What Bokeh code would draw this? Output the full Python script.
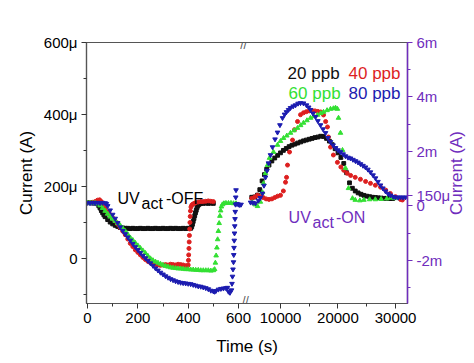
from bokeh.plotting import figure
from bokeh.models import Range1d, LinearAxis, FixedTicker, Label
from bokeh.embed import file_html
from bokeh.resources import INLINE

# ---------------- data ----------------
# left segment: time (s), current (µA) on left axis
black_left = [(0,155),(10,155),(20,154),(30,154),(40,152),(45,146),(50,140),(55,133),(60,127),(65,121),(70,116),(80,108),(90,101),(100,96),(110,92),(120,89),(130,86),(140,85),(150,84),(160,84),(170,83),(180,84),(190,83),(200,83),(210,84),(220,83),(230,83),(240,84),(250,83),(260,83),(270,84),(280,83),(290,83),(300,84),(310,83),(320,83),(330,84),(340,83),(350,84),(360,83),(370,83),(380,84),(390,83),(400,84),(410,84),(414,88),(417,95),(420,103),(423,111),(426,119),(429,127),(432,134),(435,141),(438,146),(442,150),(446,152),(450,153),(460,153),(470,154),(480,153),(490,154),(500,153)]
red_left = [(0,155),(10,155),(20,156),(30,158),(40,162),(48,163),(55,158),(60,150),(70,140),(80,130),(90,122),(100,113),(110,104),(120,95),(130,86),(140,76),(150,66),(160,54),(170,42),(180,33),(190,24),(200,17),(210,10),(220,3),(230,-3),(240,-8),(250,-12),(260,-15),(270,-17),(280,-18),(290,-19),(300,-18),(310,-17),(320,-18),(330,-16),(340,-17),(350,-18),(360,-16),(370,-17),(380,-18),(390,-20),(396,-22),(400,-18),(401,-5),(402,10),(403,28),(404,46),(405,64),(406,82),(407,100),(408,117),(409,132),(411,143),(414,148),(418,151),(424,153),(430,155),(440,157),(450,158),(460,158),(470,159),(480,160),(490,159),(500,158)]
green_left = [(0,155),(10,155),(20,154),(30,154),(40,152),(50,147),(60,140),(70,132),(80,124),(90,116),(100,110),(110,104),(120,98),(130,92),(140,84),(150,76),(160,67),(170,58),(180,51),(190,43),(200,36),(210,29),(220,22),(230,15),(240,7),(250,0),(260,-5),(270,-9),(280,-12),(290,-15),(300,-18),(310,-21),(320,-23),(330,-25),(340,-26),(350,-27),(360,-28),(370,-28),(380,-29),(390,-30),(400,-30),(410,-31),(420,-31),(430,-32),(440,-32),(450,-33),(460,-33),(470,-33),(480,-33),(490,-34),(500,-33),(505,-30),(508,-12),(511,8),(514,30),(517,53),(520,76),(523,98),(526,118),(529,133),(532,144),(536,150),(542,153),(550,154),(560,154),(570,154),(580,153),(590,153)]
blue_left = [(0,155),(10,154),(20,155),(30,154),(40,155),(50,154),(60,155),(70,154),(75,152),(80,146),(90,134),(100,122),(110,111),(120,99),(130,87),(140,77),(150,68),(160,59),(170,50),(180,41),(190,32),(200,24),(210,16),(220,8),(230,1),(240,-6),(250,-13),(260,-20),(270,-27),(280,-33),(290,-39),(300,-44),(310,-49),(320,-53),(330,-57),(340,-60),(350,-63),(360,-65),(370,-67),(380,-68),(390,-69),(400,-70),(410,-71),(420,-73),(430,-75),(440,-77),(450,-78),(460,-80),(470,-82),(480,-85),(490,-89),(500,-91),(505,-92),(510,-90),(520,-86),(530,-84),(540,-83),(550,-82),(556,-81),(560,-92),(566,-95),(572,-88),(574,-70),(576,-50),(578,-30),(580,-10),(581,10),(582,30),(583,50),(584,70),(585,90),(586,110),(587,130),(588,150),(589,170),(590,190),(594,152),(600,150),(605,149),(610,150)]

# right segment: time (s), current (mA) on right axis
black_right = [(5000,.32),(5500,.33),(6000,.40),(6400,.60),(6800,.92),(7200,1.15),(7600,1.35),(8000,1.50),(8500,1.65),(9000,1.76),(9500,1.86),(10000,1.95),(10500,2.04),(11000,2.11),(11500,2.18),(12000,2.23),(12500,2.27),(13000,2.31),(13500,2.35),(14000,2.39),(14500,2.42),(15000,2.45),(15500,2.48),(16000,2.51),(16500,2.53),(17000,2.56),(17500,2.55),(18000,2.48),(18500,2.38),(19000,2.25),(19500,2.10),(20000,1.95),(20500,1.78),(21000,1.56),(21500,1.22),(22000,0.85),(22500,0.65),(23000,0.55),(23500,0.48),(24000,0.43),(24500,0.39),(25000,0.36),(25500,0.34),(26000,0.32),(26500,0.31),(27000,0.30),(27500,0.29),(28000,0.28),(28500,0.28),(29000,0.27),(29500,0.27)]
red_right = [(5000,.28),(5500,.33),(6000,.39),(6500,.36),(7000,.31),(7500,.26),(8000,.24),(8500,.26),(9000,.31),(9500,.36),(10000,.39),(10500,.55),(10870,.87),(11050,1.05),(11220,1.50),(11570,1.98),(12090,2.42),(12430,2.80),(12960,3.10),(13480,3.35),(14000,3.42),(14500,3.46),(15000,3.49),(15500,3.50),(16000,3.49),(16500,3.47),(17000,3.45),(17480,3.34),(17850,3.10),(18170,2.90),(18350,2.53),(18700,2.16),(19200,1.87),(19900,1.60),(20500,1.43),(21000,1.31),(21600,1.20),(22200,1.12),(23000,1.05),(23900,0.98),(24800,0.90),(25650,0.83),(26500,0.76),(27400,0.69),(28300,0.58),(29100,0.46),(30000,0.34),(30870,0.24),(31200,0.22)]
green_right = [(5100,.13),(5600,.05),(6000,-.01),(6500,.15),(6870,.50),(7040,.83),(7390,1.20),(7740,1.50),(8090,1.76),(8780,1.98),(9480,2.24),(10000,2.38),(10520,2.49),(11100,2.58),(11740,2.68),(12350,2.77),(12960,2.86),(13500,2.96),(14000,3.05),(14600,3.14),(15220,3.23),(15800,3.29),(16430,3.34),(17000,3.40),(17480,3.45),(18100,3.51),(18700,3.56),(19200,3.58),(19570,3.60),(19900,3.56),(20090,3.23),(20430,2.68),(20780,2.05),(21300,1.39),(21830,0.65),(22520,0.28),(23000,0.22),(23800,0.20),(24500,0.22),(25500,0.24),(26500,0.24),(27500,0.25),(28500,0.27),(29200,0.30),(29800,0.28)]
blue_right = [(4800,.13),(5200,.12),(5650,.10),(6170,.20),(6500,.30),(6870,.46),(7130,.75),(7390,1.05),(7650,1.30),(7910,1.57),(8260,1.87),(8610,2.16),(9050,2.45),(9480,2.70),(9900,2.97),(10350,3.23),(10700,3.36),(11040,3.45),(11400,3.53),(11740,3.60),(12200,3.66),(12610,3.70),(13050,3.76),(13480,3.78),(14000,3.77),(14520,3.70),(14900,3.62),(15220,3.53),(15650,3.40),(16090,3.27),(16500,3.12),(16960,2.97),(17400,2.82),(17830,2.68),(18250,2.50),(18700,2.35),(19150,2.23),(19570,2.13),(20000,2.05),(20430,1.98),(20900,1.90),(21300,1.83),(21750,1.78),(22170,1.75),(22600,1.70),(23040,1.65),(23480,1.60),(23910,1.54),(24350,1.48),(24780,1.42),(25200,1.34),(25650,1.24),(26100,1.13),(26520,1.02),(26950,0.89),(27390,0.76),(27800,0.65),(28260,0.54),(28700,0.45),(29130,0.39),(29600,0.34),(30000,0.32),(30450,0.31),(30870,0.32),(31300,0.31),(31740,0.32)]

left_x_ticks = [0, 200, 400, 600]
left_x_minor = [100, 300, 500]
right_x_ticks = [10000, 20000, 30000]
right_x_minor = [15000, 25000]
left_y_ticks = [0, 200, 400, 600]
left_y_labels = ["0", "200\u03bc", "400\u03bc", "600\u03bc"]
left_y_minor = [-100, 100, 300, 500]
right_y_ticks = [-2, 0, 0.4, 2, 4, 6]
right_y_labels = ["-2m", "0", "150\u03bc", "2m", "4m", "6m"]
right_y_minor = [-3, -1, 1, 3, 5]

series_names = ["20 ppb", "40 ppb", "60 ppb", "80 ppb"]
colors = ["#111111", "#dd1f1f", "#33e033", "#1c1cb0"]
markers = ["square", "circle", "triangle", "inverted_triangle"]
sizes = [3.8, 4.0, 4.6, 4.6]
PURPLE = "#6f2dbd"
FONT = "Liberation Sans"

# ---------------- ranges ----------------
L0, L1 = -4.0, 1271.3          # left time segment range
R0, R1 = -23739.0, 32087.0     # right time segment range
YL0, YL1 = -125.0, 600.0       # µA
YR0, YR1 = -3.58, 6.0          # mA
FW, FH = 321, 261

p = figure(frame_width=FW, frame_height=FH, output_backend="svg", toolbar_location=None,
           x_range=Range1d(L0, L1), y_range=Range1d(YL0, YL1),
           min_border_left=86, min_border_top=42, min_border_right=20, min_border_bottom=50,
           background_fill_color="white", border_fill_color="white")
p.extra_x_ranges = {"rx": Range1d(R0, R1)}
p.extra_y_ranges = {"ry": Range1d(YR0, YR1)}
p.xgrid.visible = False
p.ygrid.visible = False
p.outline_line_color = "#555555"
p.outline_line_width = 1.2

def to_left(t):
    return int(round(L0 + (t - R0) * (L1 - L0) / (R1 - R0)))

xt = left_x_ticks + [to_left(t) for t in right_x_ticks]
xm = left_x_minor + [to_left(t) for t in right_x_minor]
xl = [str(t) for t in left_x_ticks + right_x_ticks]

xa = p.xaxis[0]
xa.ticker = FixedTicker(ticks=xt, minor_ticks=xm)
xa.major_label_overrides = {k: v for k, v in zip(xt, xl)}
xa.axis_label = "Time (s)"

ya = p.yaxis[0]
ya.ticker = FixedTicker(ticks=left_y_ticks, minor_ticks=left_y_minor)
ya.major_label_overrides = {k: v for k, v in zip(left_y_ticks, left_y_labels)}
ya.axis_label = "Current (A)"

ra = LinearAxis(y_range_name="ry", ticker=FixedTicker(ticks=right_y_ticks, minor_ticks=right_y_minor),
                major_label_overrides={k: v for k, v in zip(right_y_ticks, right_y_labels)})
p.add_layout(ra, "right")

for ax in (xa, ya, ra):
    ax.major_label_text_font = FONT
    ax.major_label_text_font_size = "15px"
    ax.axis_label_text_font = FONT
    ax.axis_label_text_font_size = "17px"
    ax.axis_label_text_font_style = "normal"
    ax.major_tick_in = 0
    ax.major_tick_out = 5
    ax.minor_tick_in = 0
    ax.minor_tick_out = 3
    ax.axis_line_width = 1.2
    ax.major_label_standoff = 4
for ax in (xa, ya):
    ax.axis_line_color = "#555555"
    ax.major_tick_line_color = "#333333"
    ax.minor_tick_line_color = "#333333"
    ax.major_label_text_color = "black"
    ax.axis_label_text_color = "black"
xa.axis_label_standoff = 11
ya.axis_label_standoff = 5
ra.axis_line_color = PURPLE
ra.axis_line_width = 1.5
ra.major_tick_line_color = PURPLE
ra.minor_tick_line_color = PURPLE
ra.major_label_text_color = PURPLE

# ---------------- data marks ----------------
for left, right, c, m, s in zip([black_left, red_left, green_left, blue_left],
                                [black_right, red_right, green_right, blue_right],
                                colors, markers, sizes):
    tl, vl = zip(*left)
    tr, vr = zip(*right)
    p.scatter(list(tl), list(vl), marker=m, size=s, color=c)
    p.scatter(list(tr), list(vr), marker=m, size=s, color=c, x_range_name="rx", y_range_name="ry")

# ---------------- annotations ----------------
def lab(x, y, text, color, size="16px", align="left", baseline="alphabetic"):
    p.add_layout(Label(x=x, y=y, text=text, text_color=color, text_font=FONT,
                       text_font_size=size, text_align=align, text_baseline=baseline))

legend_pos = [(795, 514), (1037, 514), (799, 457), (1037, 457)]
for (x, y), name, c in zip(legend_pos, series_names, colors):
    lab(x, y, name, c, size="17px")

lab(119, 167, "UV", "black")
lab(215, 153, "act", "black")
lab(312, 167, "-OFF", "black")
lab(799, 114, "UV", PURPLE)
lab(894, 100, "act", PURPLE)
lab(987, 114, "-ON", PURPLE)

lab(620, 594, "//", "#555555", size="12px", align="center", baseline="middle")
lab(628, -119, "//", "#555555", size="12px", align="center", baseline="middle")

# right axis title (reads bottom-to-top), in its own side panel outside the right axis
p.add_layout(Label(x=3, y=FH / 2, x_units="screen", y_units="screen", text="Current (A)",
                   angle=1.5707963267948966, text_color=PURPLE, text_font=FONT, text_font_size="17px",
                   text_align="center", text_baseline="middle"), "right")

open("out.html", "w").write(file_html(p, INLINE))
